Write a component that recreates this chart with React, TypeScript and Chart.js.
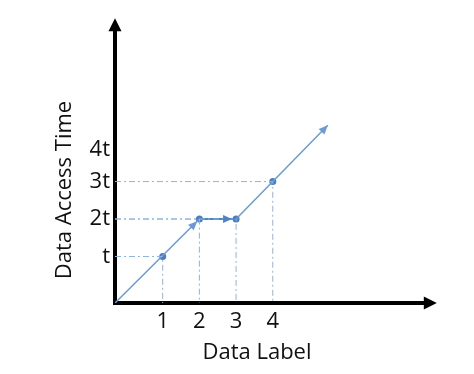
import React, { useEffect, useRef } from 'react';
import { Chart, registerables } from 'chart.js';

Chart.register(...registerables);

// ---- data ----
const dataLabels = [1, 2, 3, 4];
const accessTimes = [1, 2, 2, 3];
const xTickValues = [1, 2, 3, 4];
const xTickLabels = ['1', '2', '3', '4'];
const yTickValues = [1, 2, 3, 3.85];
const yTickLabels = ['t', '2t', '3t', '4t'];
const trendEnd = [5.5, 4.5];

// axis ranges
const X_MIN = -0.3;
const X_MAX = 7.44;
const X_AXIS_END = 8.47;
const Y_MIN = -0.24;
const Y_MAX = 5.79;
const Y_AXIS_END = 7.36;

const FONT = 'Open Sans';
const TEXT = '#111111';
const GUIDE = '#8DB3E2';
const LINE = '#6B9BD2';
const MARK = '#4A7EBF';

function drawHead(ctx: CanvasRenderingContext2D, x0: number, y0: number, x1: number, y1: number, len: number, half: number, color: string) {
  const a = Math.atan2(y1 - y0, x1 - x0);
  ctx.save();
  ctx.fillStyle = color;
  ctx.beginPath();
  ctx.moveTo(x1, y1);
  ctx.lineTo(x1 - len * Math.cos(a) + half * Math.sin(a), y1 - len * Math.sin(a) - half * Math.cos(a));
  ctx.lineTo(x1 - len * Math.cos(a) - half * Math.sin(a), y1 - len * Math.sin(a) + half * Math.cos(a));
  ctx.closePath();
  ctx.fill();
  ctx.restore();
}

const axesPlugin = {
  id: 'arrowAxes',
  beforeDatasetsDraw(chart: any) {
    const { ctx, scales } = chart;
    const x = scales.x, y = scales.y;
    const ox = x.getPixelForValue(X_MIN);
    const oy = y.getPixelForValue(Y_MIN);
    const xe = x.getPixelForValue(X_AXIS_END);
    const ye = y.getPixelForValue(Y_AXIS_END);
    ctx.save();
    ctx.strokeStyle = '#000';
    ctx.lineWidth = 4;
    ctx.lineCap = 'butt';
    ctx.beginPath();
    ctx.moveTo(ox, oy + 2);
    ctx.lineTo(ox, ye + 10);
    ctx.moveTo(ox - 2, oy);
    ctx.lineTo(xe - 10, oy);
    ctx.stroke();
    ctx.restore();
    drawHead(ctx, ox, oy, ox, ye, 13, 6.5, '#000');
    drawHead(ctx, ox, oy, xe, oy, 13, 6.5, '#000');
  },
  afterDatasetsDraw(chart: any) {
    const { ctx } = chart;
    chart.data.datasets.forEach((ds: any, i: number) => {
      if (!ds.arrowHead) return;
      const meta = chart.getDatasetMeta(i);
      const pts = meta.data;
      if (pts.length < 2) return;
      const p0 = pts[pts.length - 2], p1 = pts[pts.length - 1];
      let tx = p1.x, ty = p1.y;
      if (ds.arrowInset) {
        const a = Math.atan2(p1.y - p0.y, p1.x - p0.x);
        tx -= ds.arrowInset * Math.cos(a);
        ty -= ds.arrowInset * Math.sin(a);
      }
      drawHead(ctx, p0.x, p0.y, tx, ty, 9, 4, ds.borderColor);
    });
  },
};

export default function App() {
  const ref = useRef<HTMLCanvasElement | null>(null);
  useEffect(() => {
    if (!ref.current) return;
    const guides = dataLabels.map((xv, i) => ({
      data: [
        { x: X_MIN, y: accessTimes[i] },
        { x: xv, y: accessTimes[i] },
        { x: xv, y: Y_MIN },
      ],
      showLine: true,
      borderColor: GUIDE,
      borderWidth: 1,
      borderDash: [6, 3, 2, 3],
      pointRadius: 0,
      fill: false,
    }));
    const path = [
      { data: [{ x: X_MIN, y: Y_MIN }, { x: dataLabels[1], y: accessTimes[1] }], borderColor: LINE, borderWidth: 1.5, inset: 3 },
      { data: [{ x: dataLabels[1], y: accessTimes[1] }, { x: dataLabels[2], y: accessTimes[2] }], borderColor: '#4F84C4', borderWidth: 2, inset: 4 },
      { data: [{ x: dataLabels[2], y: accessTimes[2] }, { x: trendEnd[0], y: trendEnd[1] }], borderColor: LINE, borderWidth: 1.5, inset: 0 },
    ].map((s) => ({
      data: s.data,
      showLine: true,
      borderColor: s.borderColor,
      borderWidth: s.borderWidth,
      pointRadius: 0,
      fill: false,
      arrowHead: true,
      arrowInset: s.inset,
    }));
    const marks = {
      data: dataLabels.map((xv, i) => ({ x: xv, y: accessTimes[i] })),
      showLine: false,
      pointRadius: 3.5,
      pointBackgroundColor: MARK,
      pointBorderColor: MARK,
      pointBorderWidth: 0,
    };
    const chart = new Chart(ref.current, {
      type: 'scatter',
      data: { datasets: [...guides, ...path, marks] as any },
      options: {
        animation: false,
        responsive: false,
        maintainAspectRatio: false,
        layout: { padding: { left: 48, top: 77, right: 75, bottom: 4 } },
        plugins: { legend: { display: false }, tooltip: { enabled: false } },
        scales: {
          x: {
            type: 'linear',
            min: X_MIN,
            max: X_MAX,
            grid: { display: false, drawTicks: false },
            border: { display: false },
            afterBuildTicks: (s: any) => {
              s.ticks = xTickValues.map((v) => ({ value: v }));
            },
            afterFit: (s: any) => {
              s.height = 67;
            },
            ticks: {
              autoSkip: false,
              maxRotation: 0,
              padding: 6,
              color: TEXT,
              font: { family: FONT, size: 22 },
              callback: (_v: any, i: number) => xTickLabels[i],
            },
            title: { display: true, text: 'Data Label', color: TEXT, font: { family: FONT, size: 22 }, padding: { top: 4, bottom: 4 } },
          },
          y: {
            type: 'linear',
            min: Y_MIN,
            max: Y_MAX,
            grid: { display: false, drawTicks: false },
            border: { display: false },
            afterBuildTicks: (s: any) => {
              s.ticks = yTickValues.map((v) => ({ value: v }));
            },
            afterFit: (s: any) => {
              s.width = 67;
            },
            ticks: {
              autoSkip: false,
              padding: 5,
              color: TEXT,
              font: { family: FONT, size: 22 },
              callback: (_v: any, i: number) => yTickLabels[i],
            },
            title: { display: true, text: 'Data Access Time', color: TEXT, font: { family: FONT, size: 22 }, padding: { top: 4, bottom: 4 } },
          },
        },
      } as any,
      plugins: [axesPlugin],
    });
    return () => chart.destroy();
  }, []);
  return (
    <div style={{ position: 'absolute', left: 0, top: 0, width: 474, height: 374, background: '#fff' }}>
      <canvas ref={ref} width={474} height={374} />
    </div>
  );
}
